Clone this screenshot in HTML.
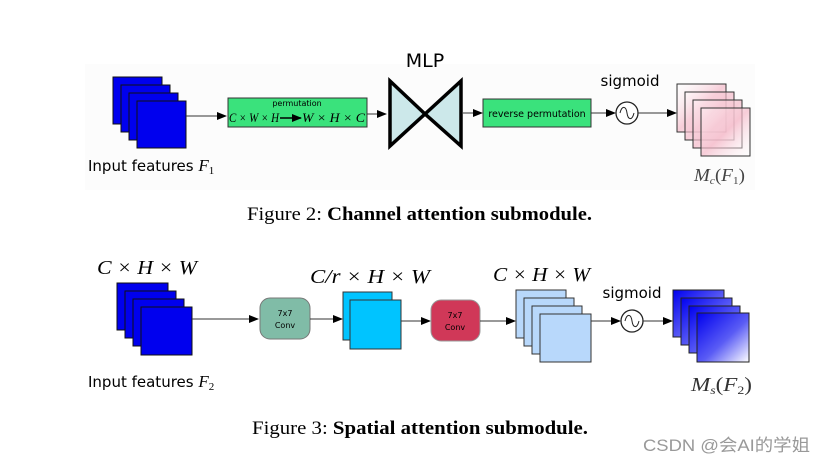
<!DOCTYPE html>
<html><head><meta charset="utf-8"><style>
html,body{margin:0;padding:0;background:#fff;width:826px;height:464px;overflow:hidden}
svg{display:block}
.s{font-family:"DejaVu Sans","Liberation Sans",sans-serif}
.m{font-family:"Liberation Serif",serif;font-style:italic}
</style></head><body>
<svg width="826" height="464" viewBox="0 0 826 464" xmlns="http://www.w3.org/2000/svg">
<defs>
<marker id="a" markerWidth="10" markerHeight="8" refX="9" refY="4" orient="auto" markerUnits="userSpaceOnUse"><path d="M0,0 L10,4 L0,8 z" fill="#000"/></marker>
<linearGradient id="pk" x1="0" y1="0" x2="1" y2="1"><stop offset="0" stop-color="#fff" stop-opacity="0.3"/><stop offset="0.5" stop-color="#f4b8c8" stop-opacity="0.7"/><stop offset="1" stop-color="#fff" stop-opacity="0.3"/></linearGradient>
<linearGradient id="bl" x1="0" y1="0" x2="1" y2="1"><stop offset="0" stop-color="#0000ee"/><stop offset="0.55" stop-color="#5a5cf5"/><stop offset="1" stop-color="#ffffff"/></linearGradient>
</defs>
<rect x="85" y="64" width="670" height="126" fill="#fcfcfc"/>
<g fill="#0000ee" stroke="#111" stroke-width="1">
<rect x="113" y="77" width="49" height="47"/><rect x="121" y="85" width="49" height="47"/><rect x="129" y="93" width="49" height="47"/><rect x="137" y="101" width="49" height="47"/></g>
<text x="88" y="171" class="s" font-size="15">Input features <tspan class="m" font-size="17">F</tspan><tspan font-size="11" dy="3" font-family="Liberation Serif">1</tspan></text>
<line x1="186" y1="116" x2="226" y2="116" stroke="#333" marker-end="url(#a)"/>
<rect x="228" y="98" width="139" height="29" fill="#3ae27c" stroke="#333"/>
<text x="297" y="106" class="s" font-size="8" text-anchor="middle">permutation</text>
<text x="229" y="122" class="m" font-size="13" textLength="50" lengthAdjust="spacingAndGlyphs">C × W × H</text>
<line x1="280" y1="118" x2="301" y2="118" stroke="#000" stroke-width="1.5" marker-end="url(#a)"/>
<text x="302" y="122" class="m" font-size="13" textLength="63" lengthAdjust="spacingAndGlyphs">W × H × C</text>
<line x1="367" y1="114" x2="386" y2="114" stroke="#333" marker-end="url(#a)"/>
<path d="M390,81 L425,114 L461,81 L461,146 L425,114 L390,146 Z" fill="#cce8ea" stroke="#000" stroke-width="3.5" stroke-linejoin="miter"/>
<text x="425" y="67" class="s" font-size="19" text-anchor="middle">MLP</text>
<line x1="463" y1="113" x2="482" y2="113" stroke="#333" marker-end="url(#a)"/>
<rect x="483" y="99" width="108" height="28" fill="#3ae27c" stroke="#333"/>
<text x="537" y="117" class="s" font-size="9.5" text-anchor="middle">reverse permutation</text>
<line x1="591" y1="113" x2="615" y2="113" stroke="#333" marker-end="url(#a)"/>
<circle cx="627" cy="113" r="11" fill="#fff" stroke="#222" stroke-width="1.3"/>
<path d="M620,113 C622,105 626,106 627,113 C628,120 632,121 634,113" fill="none" stroke="#222"/>
<text x="630" y="86" class="s" font-size="15" text-anchor="middle">sigmoid</text>
<line x1="638" y1="113" x2="676" y2="113" stroke="#333" marker-end="url(#a)"/>
<g fill="url(#pk)" stroke="#333" stroke-width="1">
<rect x="677" y="84" width="49" height="48"/><rect x="685" y="92" width="49" height="48"/><rect x="693" y="100" width="49" height="48"/><rect x="701" y="108" width="49" height="48"/></g>
<text x="694" y="181" class="m" font-size="18" fill="#444" textLength="51" lengthAdjust="spacingAndGlyphs">M<tspan font-size="11" dy="3">c</tspan><tspan dy="-3" font-style="normal">(</tspan>F<tspan font-size="11" dy="3" font-style="normal">1</tspan><tspan dy="-3" font-style="normal">)</tspan></text>
<text x="247" y="220" font-family="Liberation Serif" font-size="19" textLength="345" lengthAdjust="spacingAndGlyphs">Figure 2: <tspan font-weight="bold">Channel attention submodule.</tspan></text>
<text x="97" y="274" class="m" font-size="20" textLength="100" lengthAdjust="spacingAndGlyphs">C × H × W</text>
<g fill="#0000ee" stroke="#111">
<rect x="117" y="283" width="51" height="47"/><rect x="125" y="291" width="51" height="47"/><rect x="133" y="299" width="51" height="47"/><rect x="141" y="307" width="51" height="48"/></g>
<text x="88" y="387" class="s" font-size="15">Input features <tspan class="m" font-size="17">F</tspan><tspan font-size="11" dy="3" font-family="Liberation Serif">2</tspan></text>
<line x1="192" y1="319" x2="258" y2="319" stroke="#333" marker-end="url(#a)"/>
<rect x="260" y="298" width="50" height="41" rx="10" fill="#80bca7" stroke="#777"/>
<text x="285" y="316" class="s" font-size="8" text-anchor="middle">7x7</text>
<text x="285" y="328" class="s" font-size="8" text-anchor="middle">Conv</text>
<line x1="310" y1="319" x2="342" y2="319" stroke="#333" marker-end="url(#a)"/>
<text x="310" y="283" class="m" font-size="20" textLength="120" lengthAdjust="spacingAndGlyphs">C/r × H × W</text>
<g fill="#00c4ff" stroke="#333"><rect x="343" y="292" width="49" height="48"/><rect x="350" y="300" width="51" height="49"/></g>
<line x1="401" y1="321" x2="430" y2="321" stroke="#333" marker-end="url(#a)"/>
<rect x="431" y="300" width="49" height="41" rx="10" fill="#d03858" stroke="#999"/>
<text x="455" y="318" class="s" font-size="8" text-anchor="middle">7x7</text>
<text x="455" y="330" class="s" font-size="8" text-anchor="middle">Conv</text>
<line x1="480" y1="321" x2="515" y2="321" stroke="#333" marker-end="url(#a)"/>
<text x="493" y="281" class="m" font-size="20" textLength="97" lengthAdjust="spacingAndGlyphs">C × H × W</text>
<g fill="#b8d8fb" stroke="#333">
<rect x="516" y="290" width="50" height="48"/><rect x="524" y="298" width="50" height="48"/><rect x="532" y="306" width="50" height="48"/><rect x="540" y="314" width="51" height="48"/></g>
<line x1="591" y1="321" x2="620" y2="321" stroke="#333" marker-end="url(#a)"/>
<circle cx="632" cy="321" r="11" fill="#fff" stroke="#222" stroke-width="1.3"/>
<path d="M625,321 C627,313 631,314 632,321 C633,328 637,329 639,321" fill="none" stroke="#222"/>
<text x="632" y="298" class="s" font-size="15" text-anchor="middle">sigmoid</text>
<line x1="643" y1="321" x2="672" y2="321" stroke="#333" marker-end="url(#a)"/>
<g fill="url(#bl)" stroke="#222">
<rect x="673" y="290" width="51" height="47"/><rect x="681" y="298" width="51" height="47"/><rect x="689" y="306" width="51" height="47"/><rect x="697" y="313" width="52" height="49"/></g>
<text x="691" y="391" class="m" font-size="20" fill="#333" textLength="61" lengthAdjust="spacingAndGlyphs">M<tspan font-size="12" dy="3">s</tspan><tspan dy="-3" font-style="normal">(</tspan>F<tspan font-size="12" dy="3" font-style="normal">2</tspan><tspan dy="-3" font-style="normal">)</tspan></text>
<text x="252" y="434" font-family="Liberation Serif" font-size="19" textLength="336" lengthAdjust="spacingAndGlyphs">Figure 3: <tspan font-weight="bold">Spatial attention submodule.</tspan></text>
<text x="643" y="451" font-family="Liberation Sans,'Noto Sans CJK SC',sans-serif" font-size="17" fill="#999" textLength="167" lengthAdjust="spacingAndGlyphs">CSDN @会AI的学姐</text>
</svg>
</body></html>
